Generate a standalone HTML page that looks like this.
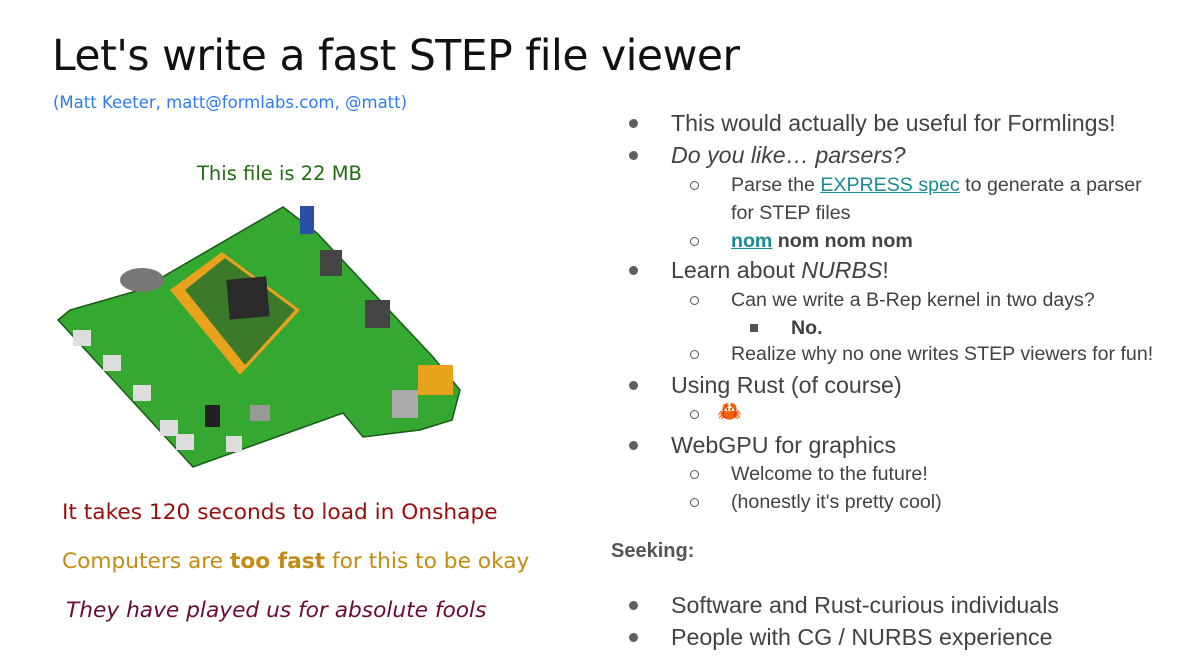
<!DOCTYPE html>
<html><head><meta charset="utf-8"><style>
body{margin:0;width:1200px;height:671px;background:#fff;position:relative;overflow:hidden;font-family:"Liberation Sans",sans-serif}
.a{position:absolute;white-space:nowrap}
.c{font-family:"DejaVu Sans","Liberation Sans",sans-serif}
.r{color:#424242}
.b1{font-size:23.2px}
.b2{font-size:19.6px}
.dot{position:absolute;width:9px;height:9px;border-radius:50%;background:#5f5f5f}
.cir{position:absolute;width:7px;height:7px;border-radius:50%;border:1.3px solid #555}
a{color:#1a8a96;text-decoration:underline}
</style></head><body>
<div class="a c" style="left:52px;top:32px;font-size:42.5px;color:#111;letter-spacing:-0.5px">Let's write a fast STEP file viewer</div>
<div class="a c" style="left:53px;top:93px;font-size:16.5px;color:#2e7bf0">(Matt Keeter, matt@formlabs.com, @matt)</div>
<div class="a c" style="left:197px;top:162px;font-size:19.5px;color:#1f6e10">This file is 22 MB</div>
<svg class="a" style="left:0;top:0" width="500" height="500">
<polygon points="283,207 317,233 433,357 460,390 452,420 420,430 363,437 343,413 193,467 58,320 70,310 140,290" fill="#35a832" stroke="#1a5a1a" stroke-width="1.5"/>
<polygon points="170,290 222,252 300,310 240,375" fill="#e8a21c"/>
<polygon points="185,290 225,258 295,310 245,365" fill="#3b7a2a"/>
<rect x="228" y="278" width="40" height="40" fill="#2a2a2a" transform="rotate(-5 248 298)"/>
<rect x="300" y="206" width="14" height="28" fill="#2b4fa8"/>
<rect x="365" y="300" width="25" height="28" fill="#444"/>
<rect x="320" y="250" width="22" height="26" fill="#444"/>
<ellipse cx="142" cy="280" rx="22" ry="12" fill="#777"/>
<rect x="418" y="365" width="35" height="30" fill="#e8a21c"/>
<rect x="392" y="390" width="26" height="28" fill="#aaa"/>
<rect x="250" y="405" width="20" height="16" fill="#999"/>
<rect x="205" y="405" width="15" height="22" fill="#222"/>
<g fill="#ddd"><rect x="73" y="330" width="18" height="16"/><rect x="103" y="355" width="18" height="16"/><rect x="133" y="385" width="18" height="16"/><rect x="160" y="420" width="18" height="16"/><rect x="176" y="434" width="18" height="16"/><rect x="226" y="436" width="16" height="16"/></g>
</svg>
<div class="a c" style="left:62px;top:500px;font-size:21.7px;color:#9a0d0d">It takes 120 seconds to load in Onshape</div>
<div class="a c" style="left:62px;top:549px;font-size:21.7px;color:#c48b0f">Computers are <b>too fast</b> for this to be okay</div>
<div class="a c" style="left:66px;top:598px;font-size:21.7px;color:#6a0b30;font-style:italic">They have played us for absolute fools</div>

<div class="dot" style="left:629px;top:119px"></div><div class="a r b1" style="left:671px;top:110px">This would actually be useful for Formlings!</div>
<div class="dot" style="left:629px;top:151px"></div><div class="a r b1" style="left:671px;top:142px;font-style:italic">Do you like… parsers?</div>
<div class="cir" style="left:690px;top:181px"></div><div class="a r b2" style="left:731px;top:174px">Parse the <a>EXPRESS spec</a> to generate a parser</div>
<div class="a r b2" style="left:731px;top:202px">for STEP files</div>
<div class="cir" style="left:690px;top:237px"></div><div class="a r b2" style="left:731px;top:230px;font-weight:bold"><a>nom</a> nom nom nom</div>
<div class="dot" style="left:629px;top:266px"></div><div class="a r b1" style="left:671px;top:257px">Learn about <i>NURBS</i>!</div>
<div class="cir" style="left:690px;top:296px"></div><div class="a r b2" style="left:731px;top:289px">Can we write a B-Rep kernel in two days?</div>
<div class="a" style="left:750px;top:324px;width:8px;height:8px;background:#555"></div><div class="a r b2" style="left:791px;top:317px;font-weight:bold">No.</div>
<div class="cir" style="left:690px;top:350px"></div><div class="a r b2" style="left:731px;top:343px">Realize why no one writes STEP viewers for fun!</div>
<div class="dot" style="left:629px;top:381px"></div><div class="a r b1" style="left:671px;top:372px">Using Rust (of course)</div>
<div class="cir" style="left:690px;top:410px"></div><div class="a" style="left:717px;top:399px;font-size:20px;color:#e0504a">🦀</div>
<div class="dot" style="left:629px;top:441px"></div><div class="a r b1" style="left:671px;top:432px">WebGPU for graphics</div>
<div class="cir" style="left:690px;top:470px"></div><div class="a r b2" style="left:731px;top:463px">Welcome to the future!</div>
<div class="cir" style="left:690px;top:498px"></div><div class="a r b2" style="left:731px;top:491px">(honestly it's pretty cool)</div>
<div class="a r" style="left:611px;top:540px;font-size:20px;font-weight:bold;color:#555">Seeking:</div>
<div class="dot" style="left:629px;top:601px"></div><div class="a r b1" style="left:671px;top:592px">Software and Rust-curious individuals</div>
<div class="dot" style="left:629px;top:633px"></div><div class="a r b1" style="left:671px;top:624px">People with CG / NURBS experience</div>
</body></html>
